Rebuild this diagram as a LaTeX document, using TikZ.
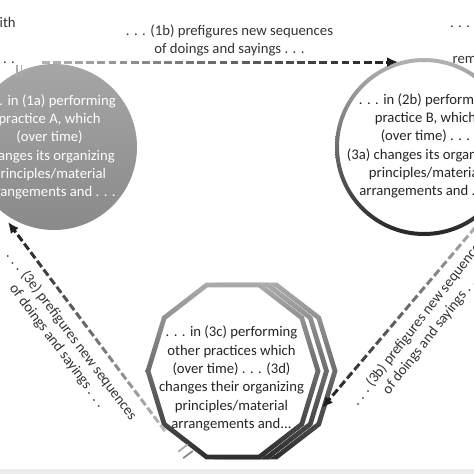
\documentclass[tikz,border=0pt]{standalone}
\usepackage{fontspec}
\setmainfont{Carlito}
\usetikzlibrary{calc,arrows.meta}
\newcommand\gradline[5]{%
  \foreach \i in {1,...,#3}{%
    \pgfmathsetmacro\fa{(\i-1)/#3}%
    \pgfmathsetmacro\fb{(\i-0.3)/#3}%
    \pgfmathsetmacro\sh{#4+(#5-#4)*(\i-1)/(#3-1)}%
    \draw[gd, draw=black!\sh] ($(#1)!\fa!(#2)$) -- ($(#1)!\fb!(#2)$);
  }}
\newcommand\decring[2]{%
  \fill[white] plot[samples at={0,36,...,324}, variable=\t] ({#1+87.5*cos(\t)},{#2+93*sin(\t)}) -- cycle;
  \shade[top color=black!33, bottom color=black!82, even odd rule]
     plot[samples at={0,36,...,324}, variable=\t] ({#1+87.5*cos(\t)},{#2+93*sin(\t)}) -- cycle
     plot[samples at={0,36,...,324}, variable=\t] ({#1+82.5*cos(\t)},{#2+88*sin(\t)}) -- cycle;
}
\begin{document}
\begin{tikzpicture}[x=1pt,y=-1pt,
  txt/.style={font=\fontsize{14.7}{18.3}\selectfont, align=center, inner sep=0pt},
  lbl/.style={font=\fontsize{14.7}{17.5}\selectfont, align=center, inner sep=0pt, text=black!80},
  gd/.style={line width=3pt},
  ahead/.style={-{Latex[length=11pt,width=10pt]}, line width=3pt, draw=black!88},
  tailbar/.style={line width=1.8pt, draw=black!32},
]
\path[use as bounding box, fill=white] (0,0) rectangle (474,474);
\fill[black!7] (0,469) rectangle (474,474);

% left circle
\node[circle, minimum size=166pt, inner sep=0pt, top color=black!35, bottom color=black!46, draw=none] (A) at (54,147) {};
% right circle
\coordinate (B) at (424,147);
\shade[top color=black!30, middle color=black!65, bottom color=black!85, even odd rule]
  (B) circle[radius=89] (B) circle[radius=85];

% decagons (back copies first)
\decring{250}{371}
\decring{241.5}{371}
\decring{233}{371}
\coordinate (D) at (233,371);

% texts
\node[txt, text=white] (tA) at (49.5,147) {. . . in (1a) performing\\practice A, which\\(over time)\\changes its organizing\\principles/material\\arrangements and . . .};
\node[txt, text=black!85] (tB) at (425.5,146) {. . . in (2b) performing\\practice B, which\\(over time) . . .\\(3a) changes its organizing\\principles/material\\arrangements and . . .};
\node[txt, text=black!85] (tC) at (231.5,378.5) {. . . in (3c) performing\\other practices which\\(over time) . . . (3d)\\changes their organizing\\principles/material\\arrangements and...};

% labels
\node[lbl] (l1) at (229.5,40.5) {. . . (1b) prefigures new sequences\\of doings and sayings . . .};
\node[lbl, rotate=52] (l3b) at (425,328) {. . . (3b) prefigures new sequences\\of doings and sayings . . .};
\node[lbl, rotate=-53] (l3e) at (64.5,341) {. . . (3e) prefigures new sequences\\of doings and sayings . . .};

% cut-off texts at the edges
\node[lbl, anchor=base west] (w1) at (-0.5,27) {ith};
\node[lbl, anchor=base] (w2) at (9,63) {. .};
\node[lbl, anchor=base] (w3) at (460,27) {. . .};
\node[lbl, anchor=base west] (w4) at (452.5,63) {rem};

% top arrow
\coordinate (T0) at (42,62);
\coordinate (T1) at (386,62);
\coordinate (T2) at (398,62);
\gradline{T0}{T1}{31}{30}{85}
\draw[ahead] (T1) -- (T2);
\draw[tailbar] (17,65) -- (17,77);
\draw[tailbar] (21.5,65) -- (21.5,77);

% right arrow
\coordinate (R0) at (490,210);
\coordinate (R1) at (330.4,398.1);
\coordinate (R2) at (322,408);
\gradline{R0}{R1}{22}{28}{85}
\draw[ahead] (R1) -- (R2);

% left arrow
\coordinate (L0) at (165,431);
\coordinate (L1) at (15.8,232.4);
\coordinate (L2) at (8,222);
\gradline{L0}{L1}{23}{28}{85}
\draw[ahead] (L1) -- (L2);
\draw[tailbar] (178.2,451.6) -- (187.8,444.4);
\draw[tailbar, draw=black!45] (183.2,458.1) -- (192.8,450.9);
\end{tikzpicture}
\end{document}
